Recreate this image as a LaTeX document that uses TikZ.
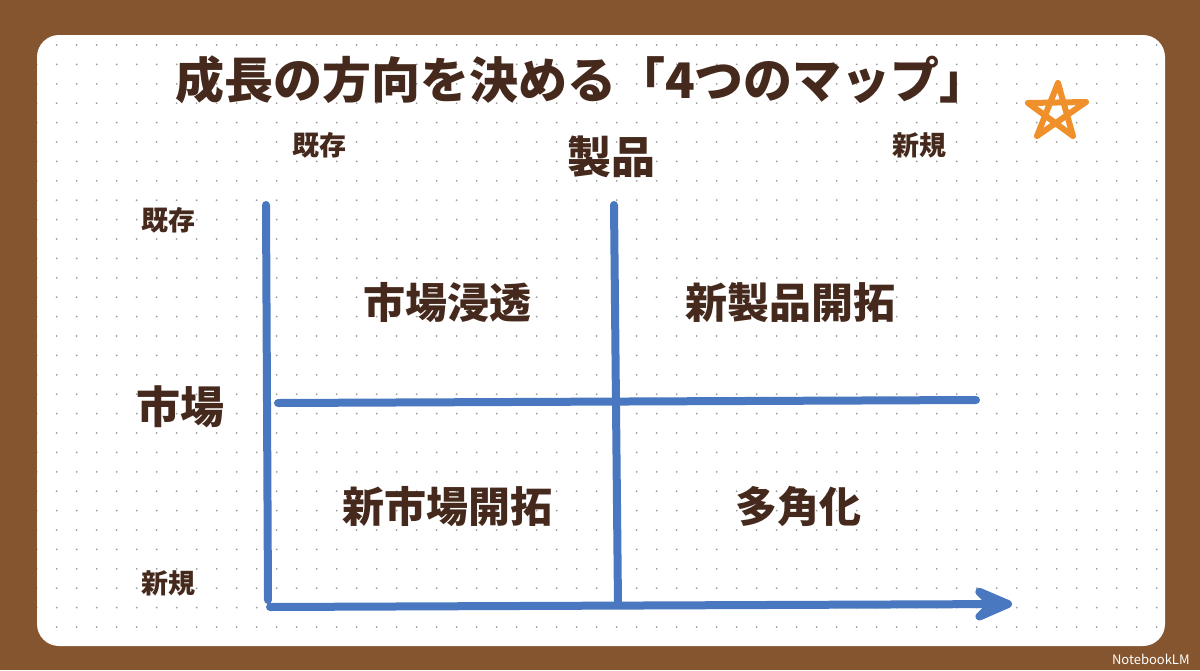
\documentclass[tikz,border=0pt]{standalone}
\usepackage{fontspec}
\setmainfont{Noto Sans CJK JP}
\usetikzlibrary{positioning, arrows.meta}
\definecolor{wood}{HTML}{84552F}
\definecolor{ink}{HTML}{45291C}
\definecolor{pen}{HTML}{4A78C0}
\definecolor{starpen}{HTML}{F0902A}
\definecolor{dotgray}{HTML}{9C9C9C}

\begin{document}
\begin{tikzpicture}[x=0.5pt, y=-0.5pt]
  \tikzstyle{every node}=[text=ink, inner sep=0pt, font=\bfseries]
  \tikzstyle{small}=[font=\fontsize{13.5}{16}\selectfont\bfseries]
  \tikzstyle{axis}=[font=\fontsize{22}{26}\selectfont\bfseries]
  \tikzstyle{cell}=[font=\fontsize{21}{25}\selectfont\bfseries]
  \tikzstyle{stroke}=[draw=pen, line width=4pt, line cap=round]

  % wood and card
  \useasboundingbox (0,0) rectangle (1200,670);
  \fill[wood] (0,0) rectangle (1200,670);
  \fill[white, rounded corners=11pt] (37,35) rectangle (1165,646);
  \begin{scope}
    \clip[rounded corners=11pt] (37,35) rectangle (1165,646);
    \foreach \i in {0,...,56}
      \foreach \j in {0,...,30}
        \fill[dotgray] (36.7+20*\i, 45+19.4*\j) circle (1);
  \end{scope}

  % texts
  \node (title)  [font=\fontsize{24.5}{29}\selectfont\bfseries] at (582,80) {成長の方向を決める「4つのマップ」};
  \node (product)  [axis] at (611,157) {製品};
  \node (market)   [axis] at (180,407) {市場};
  \node (top old)  [small] at (319,145) {既存};
  \node (top new)  [small] at (919,145) {新規};
  \node (left old) [small] at (168,220) {既存};
  \node (left new) [small] at (168,583) {新規};

  \node (q1) [cell] at (447,303) {市場浸透};
  \node (q2) [cell] at (790,303) {新製品開拓};
  \node (q3) [cell] at (447,507) {新市場開拓};
  \node (q4) [cell] at (798,507) {多角化};

  \node (logo) [text=white, anchor=east, font=\fontsize{6.5}{8}\selectfont] at (1190,659) {NotebookLM};

  % grid lines
  \coordinate (v1 top) at (266,205);
  \coordinate (v1 bot) at (268,600);
  \coordinate (v2 top) at (614,205);
  \coordinate (v2 bot) at (618,605);
  \coordinate (h left)  at (278,403);
  \coordinate (h right) at (976,400);
  \coordinate (a left)  at (270,607);
  \coordinate (a right) at (1012,604);

  \draw [stroke] (v1 top) -- (v1 bot);
  \draw [stroke] (v2 top) -- (v2 bot);
  \draw [stroke] (h left) -- (h right);
  \draw [stroke, -{Stealth[length=28pt, width=24pt, inset=12pt, round]}] (a left) -- (a right);

  % star
  \draw[starpen, line width=3pt, line join=round, line cap=round]
    (1058,83) -- (1037,136) -- (1086,102) -- (1028,103) -- (1073,136) -- cycle;
\end{tikzpicture}
\end{document}
